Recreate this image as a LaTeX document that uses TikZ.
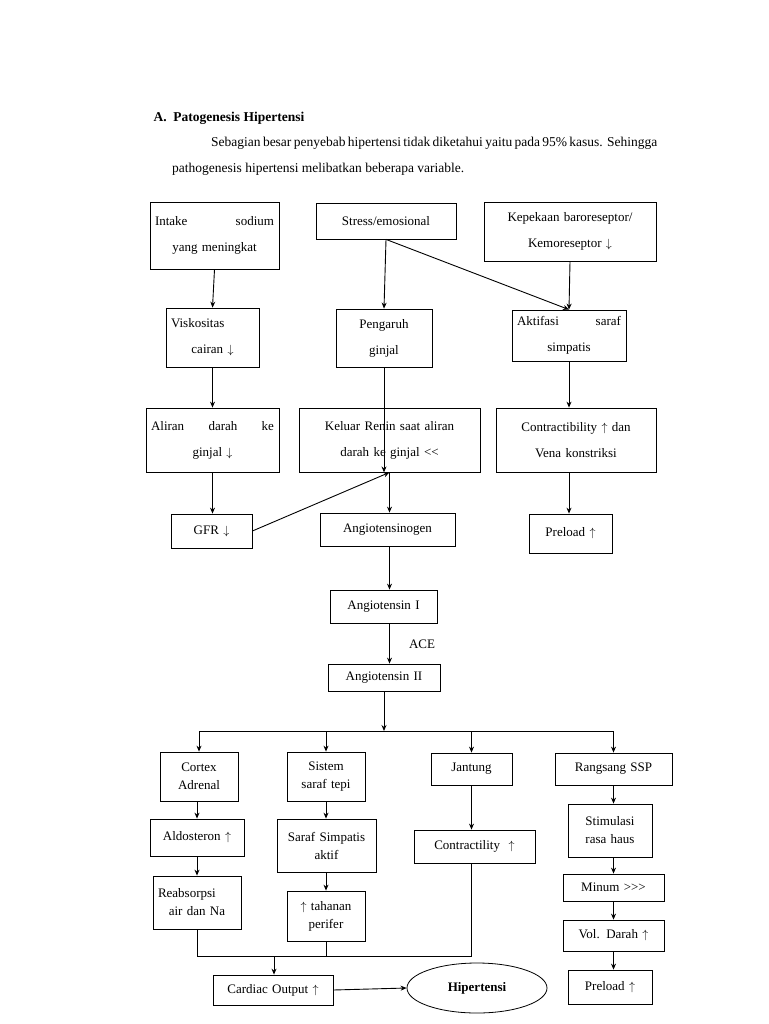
\documentclass[tikz,border=0pt]{standalone}
\usepackage{fontspec}
\setmainfont{Liberation Serif}
\usetikzlibrary{arrows.meta,shapes.geometric}
\begin{document}
\begin{tikzpicture}[x=1pt,y=-1pt,
  box/.style={draw,line width=0.8pt,inner sep=2pt,font=\fontsize{13}{26}\selectfont,align=center},
  ar/.style={-{Stealth[length=6pt,width=5pt]},line width=0.9pt},
  ln/.style={line width=0.9pt}]
\useasboundingbox (0,0) rectangle (768,1024);
\newcommand{\bx}[6]{\node[box,minimum width=#4-#2,minimum height=#5-#3,text width=#4-#2-10] (#1) at ({(#2+#4)/2},{(#3+#5)/2}) {#6};}
\node[anchor=west,font=\fontsize{13.5}{16}\selectfont\bfseries] (h) at (150,118) {A.\ \ Patogenesis Hipertensi};
\node[anchor=north west,text width=485,inner sep=0pt,font=\fontsize{13.5}{26}\selectfont,align=justify] (p) at (172,137)
  {\hspace*{39pt}Sebagian besar penyebab hipertensi tidak diketahui yaitu pada 95\% kasus. Sehingga pathogenesis hipertensi melibatkan beberapa variable.};
\bx{intake}{150}{202}{279}{269}{\raggedright Intake\hfill sodium\\yang meningkat}
\bx{stress}{316}{203}{456}{239}{Stress/emosional}
\bx{kep}{484}{202}{656}{261}{Kepekaan baroreseptor/\\Kemoreseptor $\downarrow$}
\bx{visk}{166}{308}{259}{367}{\raggedright Viskositas\\cairan $\downarrow$}
\bx{peng}{336}{309}{432}{367}{Pengaruh\\ginjal}
\bx{akt}{512}{310}{626}{361}{\raggedright Aktifasi\hfill saraf\\simpatis}
\bx{alir}{146}{408}{279}{472}{\raggedright Aliran\hfill darah\hfill ke\\ginjal $\downarrow$}
\bx{kel}{299}{408}{480}{472}{Keluar Renin saat aliran\\darah ke ginjal <{}<}
\bx{contb}{496}{408}{656}{472}{Contractibility $\uparrow$ dan\\Vena konstriksi}
\bx{gfr}{171}{514}{252}{548}{GFR $\downarrow$}
\bx{agen}{320}{513}{455}{546}{Angiotensinogen}
\bx{pre1}{529}{514}{612}{553}{Preload $\uparrow$}
\bx{a1}{330}{590}{437}{623}{Angiotensin I}
\bx{a2}{328}{664}{440}{691}{Angiotensin II}
\node[font=\fontsize{13}{16}\selectfont] (ace) at (422,644) {ACE};
\bx{cor}{160}{752}{238}{801}{Cortex\\[-8pt]Adrenal}
\bx{sis}{287}{752}{365}{801}{Sistem\\[-8pt]saraf tepi}
\bx{jan}{431}{753}{512}{785}{Jantung}
\bx{ssp}{555}{753}{672}{785}{Rangsang SSP}
\bx{ald}{150}{819}{244}{856}{Aldosteron $\uparrow$}
\bx{sim}{277}{819}{376}{872}{Saraf Simpatis\\[-8pt]aktif}
\bx{cty}{414}{830}{535}{863}{Contractility\ \ $\uparrow$}
\bx{sti}{568}{804}{652}{857}{Stimulasi\\[-8pt]rasa haus}
\bx{min}{563}{874}{664}{901}{Minum >{}>{}>}
\bx{vol}{563}{920}{664}{951}{Vol. Darah $\uparrow$}
\bx{pre2}{568}{970}{652}{1004}{Preload $\uparrow$}
\bx{rea}{153}{876}{241}{929}{\raggedright Reabsorpsi\\[-8pt]air dan Na}
\bx{tah}{287}{891}{365}{941}{$\uparrow$ tahanan\\[-8pt]perifer}
\bx{co}{213}{975}{333}{1005}{Cardiac Output $\uparrow$}
\node[draw,ellipse,line width=0.8pt,minimum width=140,minimum height=50,font=\fontsize{13}{16}\selectfont\bfseries] (hip) at (477,988) {Hipertensi};
\coordinate (b) at (384,731);
\coordinate (m) at (274,956);
% arrows
\draw[ar] (intake.south) -- (visk.north);
\draw[ar] (visk.south) -- (alir.north -| visk.south);
\draw[ar] (alir.south -| visk.south) -- (gfr.north -| visk.south);
\draw[ar] (gfr.east) -- (kel.south);
\draw[ar] (stress.south) -- (peng.north);
\draw[ar] (stress.south) -- (akt.north);
\draw[ar] (kep.south) -- (akt.north);
\draw[ar] (peng.south) -- (kel.south -| peng.south);
\draw[ar] (akt.south) -- (contb.north -| akt.south);
\draw[ar] (contb.south -| akt.south) -- (pre1.north -| akt.south);
\draw[ar] (kel.south) -- (agen.north -| kel.south);
\draw[ar] (agen.south -| kel.south) -- (a1.north -| kel.south);
\draw[ar] (a1.south -| kel.south) -- (a2.north -| kel.south);
\draw[ar] (a2.south -| b) -- (b);
\draw[ln] (b -| cor.north) -- (b -| ssp.north);
\foreach \n in {cor,sis,jan,ssp} \draw[ar] (b -| \n.north) -- (\n.north);
\draw[ar] (cor.south -| 197,0) -- (ald.north -| 197,0);
\draw[ar] (ald.south -| 197,0) -- (rea.north -| 197,0);
\draw[ar] (sis.south) -- (sim.north -| sis.south);
\draw[ar] (sim.south -| sis.south) -- (tah.north -| sis.south);
\draw[ar] (jan.south) -- (cty.north -| jan.south);
\draw[ar] (ssp.south) -- (sti.north -| ssp.south);
\draw[ar] (sti.south -| ssp.south) -- (min.north -| ssp.south);
\draw[ar] (min.south -| ssp.south) -- (vol.north -| ssp.south);
\draw[ar] (vol.south -| ssp.south) -- (pre2.north -| ssp.south);
\draw[ln] (rea.south -| 197,0) -- (m -| 197,0) -- (m -| jan.south) -- (cty.south -| jan.south);
\draw[ln] (tah.south) -- (m -| tah.south);
\draw[ar] (m) -- (co.north -| m);
\draw[ar] (co.east) -- (hip.west);
\end{tikzpicture}
\end{document}
